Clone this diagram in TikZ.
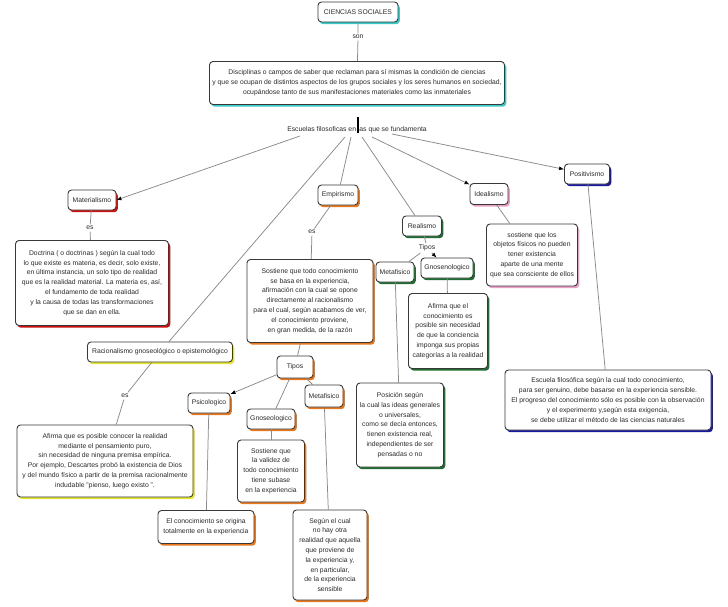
\documentclass[tikz,border=0pt]{standalone}
\usepackage{fontspec}
\setmainfont{Liberation Sans}
\usetikzlibrary{shadows,arrows.meta,calc}
\definecolor{shCyan}{HTML}{3CC8C8}
\definecolor{shRed}{HTML}{CC1010}
\definecolor{shOrange}{HTML}{E8781E}
\definecolor{shGreen}{HTML}{1E6E32}
\definecolor{shPink}{HTML}{E8A0C4}
\definecolor{shBlue}{HTML}{1A1AA0}
\definecolor{shYellow}{HTML}{E6E630}
\definecolor{lineGray}{HTML}{8A8A8A}
\definecolor{txtGray}{HTML}{2A2A2A}
\newcommand\diafont{\fontsize{6.8}{9.8}\selectfont}
\begin{document}
\begin{tikzpicture}[x=1pt,y=-1pt,
  box/.style={draw=black!78, line width=0.9pt, rounded corners=3.5pt, fill=white,
    align=center, inner sep=2pt, font=\diafont, text=txtGray},
  sh/.style={drop shadow={shadow xshift=1.8pt, shadow yshift=-2.2pt, fill=#1, opacity=1}},
  lbl/.style={font=\diafont, inner sep=1.5pt, fill=white, text=txtGray},
  conn/.style={draw=lineGray, line width=0.75pt},
  arr/.style={conn, -{Latex[length=5pt,width=4pt,color=black]}}]
\useasboundingbox[fill=white] (0,0) rectangle (728,607);

% top
\node[box,sh=shCyan,minimum width=80,minimum height=20] (cs) at (358,12) {CIENCIAS SOCIALES};
\node[lbl] (son) at (358,37) {son};
\node[box,sh=shCyan,minimum width=295,minimum height=43] (disc) at (357,83)
 {Disciplinas o campos de saber que reclaman para sí mismas la condición de ciencias\\
  y que se ocupan de distintos aspectos de los grupos sociales y los seres humanos en sociedad,\\
  ocupándose tanto de sus manifestaciones materiales como las inmateriales};
\node[lbl,fill=none] (esc) at (357,130) {Escuelas filosoficas en las que se fundamenta};
\coordinate (bt) at (358,117);
\coordinate (bb) at (358,133);

% schools
\node[box,sh=shRed,minimum width=48,minimum height=20] (mat) at (92,200) {Materialismo};
\node[lbl] (es1) at (90,228) {es};
\node[box,sh=shRed,minimum width=153,minimum height=85] (matd) at (92,283)
 {Doctrina ( o doctrinas ) según la cual todo\\
  lo que existe es materia, es decir, solo existe,\\
  en última instancia, un solo tipo de realidad\\
  que es la realidad material. La materia es, así,\\
  el fundamento de toda realidad\\
  y la causa de todas las transformaciones\\
  que se dan en ella.};

\node[box,sh=shOrange,minimum width=40,minimum height=20] (emp) at (338,195) {Empirismo};
\node[lbl] (es2) at (312,232) {es};
\node[box,sh=shOrange,minimum width=126,minimum height=83] (empd) at (310,301)
 {Sostiene que todo conocimiento\\
  se basa en la experiencia,\\
  afirmación con la cual se opone\\
  directamente al racionalismo\\
  para el cual, según acabamos de ver,\\
  el conocimiento proviene,\\
  en gran medida, de la razón};

\node[box,sh=shGreen,minimum width=39,minimum height=20] (real) at (422,226) {Realismo};
\node[lbl] (tip2) at (427,248) {Tipos};
\node[box,sh=shGreen,minimum width=38,minimum height=20] (met2) at (395,272) {Metafisico};
\node[box,sh=shGreen,minimum width=52,minimum height=20] (gnos) at (447,268) {Gnosenologico};
\node[box,sh=shGreen,minimum width=79,minimum height=75] (gnosd) at (448,331)
 {Afirma que el\\
  conocimiento es\\
  posible sin necesidad\\
  de que la conciencia\\
  imponga sus propias\\
  categorías a la realidad};
\node[box,sh=shGreen,minimum width=87,minimum height=84] (met2d) at (400,425)
 {Posición según\\
  la cual las ideas generales\\
  o universales,\\
  como se decía entonces,\\
  tienen existencia real,\\
  independientes de ser\\
  pensadas o no};

\node[box,sh=shPink,minimum width=38,minimum height=21] (ideal) at (489,194) {Idealismo};
\node[box,sh=shPink,minimum width=91,minimum height=62] (ideald) at (532,255)
 {sostiene que los\\
  objetos físicos no pueden\\
  tener existencia\\
  aparte de una mente\\
  que sea consciente de ellos};

\node[box,sh=shBlue,minimum width=45,minimum height=20] (pos) at (587,174) {Positivismo};
\node[box,sh=shBlue,minimum width=206,minimum height=60] (posd) at (608,400)
 {Escuela filosófica según la cual todo conocimiento,\\
  para ser genuino, debe basarse en la experiencia sensible.\\
  El progreso del conocimiento sólo es posible con la observación\\
  y el experimento y,según esta exigencia,\\
  se debe utilizar el método de las ciencias naturales};

\node[box,sh=shYellow,minimum width=145,minimum height=20] (rac) at (160,352) {Racionalismo gnoseológico o epistemológico};
\node[lbl] (es3) at (125,396) {es};
\node[box,sh=shYellow,minimum width=176,minimum height=72] (racd) at (105,461)
 {Afirma que es posible conocer la realidad\\
  mediante el pensamiento puro,\\
  sin necesidad de ninguna premisa empírica.\\
  Por ejemplo, Descartes probó la existencia de Dios\\
  y del mundo físico a partir de la premisa racionalmente\\
  indudable "pienso, luego existo ".};

% empirismo types
\node[box,sh=shOrange,minimum width=36,minimum height=22] (tipo) at (295,367) {Tipos};
\node[box,sh=shOrange,minimum width=42,minimum height=20] (psi) at (209,403) {Psicologico};
\node[box,sh=shOrange,minimum width=48,minimum height=20] (gno) at (271,419) {Gnoseologico};
\node[box,sh=shOrange,minimum width=38,minimum height=22] (met) at (324,396) {Metafisico};
\node[box,sh=shOrange,minimum width=67,minimum height=62] (gnod) at (271,471)
 {Sostiene que\\
  la validez de\\
  todo conocimiento\\
  tiene subase\\
  en la experiencia};
\node[box,sh=shOrange,minimum width=96,minimum height=33] (psid) at (206,527)
 {El conocimiento se origina\\
  totalmente en la experiencia};
\node[box,sh=shOrange,minimum width=74,minimum height=90] (metd) at (330,555)
 {Según el cual\\
  no hay otra\\
  realidad que aquella\\
  que proviene de\\
  la experiencia y,\\
  en particular,\\
  de la experiencia\\
  sensible};

% fan-out points under the label
\coordinate (f1) at (300,136);
\coordinate (f2) at (345,137);
\coordinate (f3) at (351,137);
\coordinate (f4) at (362,137);
\coordinate (f5) at (372,137);
\coordinate (f6) at (392,134);

% connectors
\draw[conn] (cs) -- (son) -- (disc);
\draw[line width=2pt] (bt) -- (bb);
\draw[arr] (f1) -- (mat.east);
\draw[conn] (f2) -- (rac);
\draw[conn] (f3) -- (emp);
\draw[conn] (f4) -- (real);
\draw[arr] (f5) -- (ideal);
\draw[arr] (f6) -- (pos);

\draw[conn] (mat) -- (es1) -- (matd);
\draw[conn] (emp) -- (es2) -- (empd);
\draw[conn] (empd) -- (tipo);
\draw[arr] (tipo) -- (psi);
\draw[conn] (tipo) -- (gno);
\draw[conn] (tipo) -- (met);
\draw[conn] (psi) -- (psid);
\draw[conn] (gno) -- (gnod);
\draw[conn] (met) -- (metd);

\draw[conn] (real) -- (tip2);
\draw[conn] (tip2) -- (met2);
\draw[arr] (tip2) -- (gnos);
\draw[conn] (gnos) -- (gnosd);
\draw[conn] (met2) -- (met2d);
\draw[conn] (ideal) -- (ideald);
\draw[conn] (pos) -- (posd);
\draw[conn] (rac) -- (es3) -- (racd);
\end{tikzpicture}
\end{document}
